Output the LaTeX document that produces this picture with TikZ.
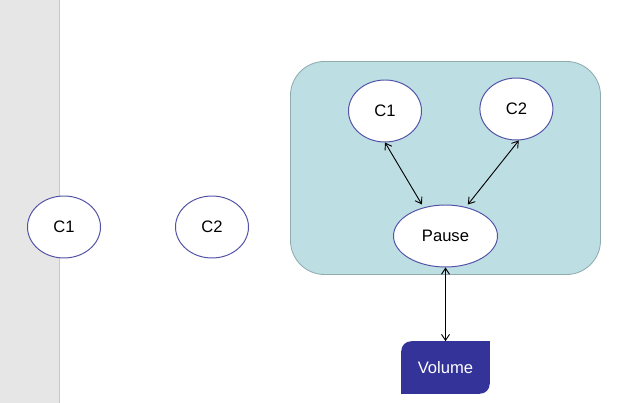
\documentclass[tikz,border=0pt]{standalone}
\usepackage{fontspec}
\setmainfont{Liberation Sans}
\usetikzlibrary{shapes.geometric}
\usetikzlibrary{backgrounds}
\usetikzlibrary{arrows.meta}

\definecolor{sidegray}{HTML}{E6E6E6}
\definecolor{sideline}{HTML}{C8C8C8}
\definecolor{podteal}{HTML}{BDDFE4}
\definecolor{podline}{HTML}{8FABAE}
\definecolor{darkblue}{HTML}{333399}

\begin{document}
\begin{tikzpicture}[
		scale=1,
		every node/.style={font=\fontsize{11.8}{13}\selectfont, inner sep=0pt},
		cont/.style={ellipse, draw=darkblue!85, fill=white, line width=0.7pt, minimum width=1.825cm, minimum height=1.55cm},
		pod/.style={rectangle, draw=podline, fill=podteal, line width=0.6pt, rounded corners=0.85cm, minimum width=7.75cm, minimum height=5.325cm},
		link/.style={{Straight Barb[length=1.5mm, width=2mm]}-{Straight Barb[length=1.5mm, width=2mm]}, line width=0.65pt}
	]
  \useasboundingbox (0cm, 0cm) rectangle (15.925cm, 10.075cm);
  \node (side) [rectangle, fill=sidegray, minimum width=1.4875cm, minimum height=10.075cm] at (0.74375cm, 5.0375cm) {};
  \draw [sideline, line width=0.6pt] (side.north east) -- (side.south east);
  \node (pod) [pod] at (11.1375cm, 5.875cm) {};
  \node (c1_out) [cont] at (1.6cm, 4.4cm) {C1};
  \node (c2_out) [cont] at (5.3cm, 4.4cm) {C2};
  \node (c1) [cont] at (9.625cm, 7.3cm) {C1};
  \node (c2) [cont] at (12.91cm, 7.35cm) {C2};
  \node (pause) [cont, minimum width=2.6cm] at (11.1375cm, 4.175cm) {Pause};
  \node (volume) [text=white, minimum width=2.2cm, minimum height=1.3cm] at (11.1375cm, 0.8875cm) {Volume};
  \begin{scope}[on background layer]
    \fill [darkblue] (volume.north east) -- ([yshift=0.25cm]volume.south east) arc (0:-90:0.25cm) -- (volume.south west) -- ([yshift=-0.25cm]volume.north west) arc (180:90:0.25cm) -- cycle;
  \end{scope}
  \draw [link] (c1.south) -- ([xshift=-0.59cm]pause.north);
  \draw [link] ([xshift=0.06cm]c2.south) -- ([xshift=0.56cm]pause.north);
  \draw [link] (pause.south) -- (volume.north);
\end{tikzpicture}
\end{document}
